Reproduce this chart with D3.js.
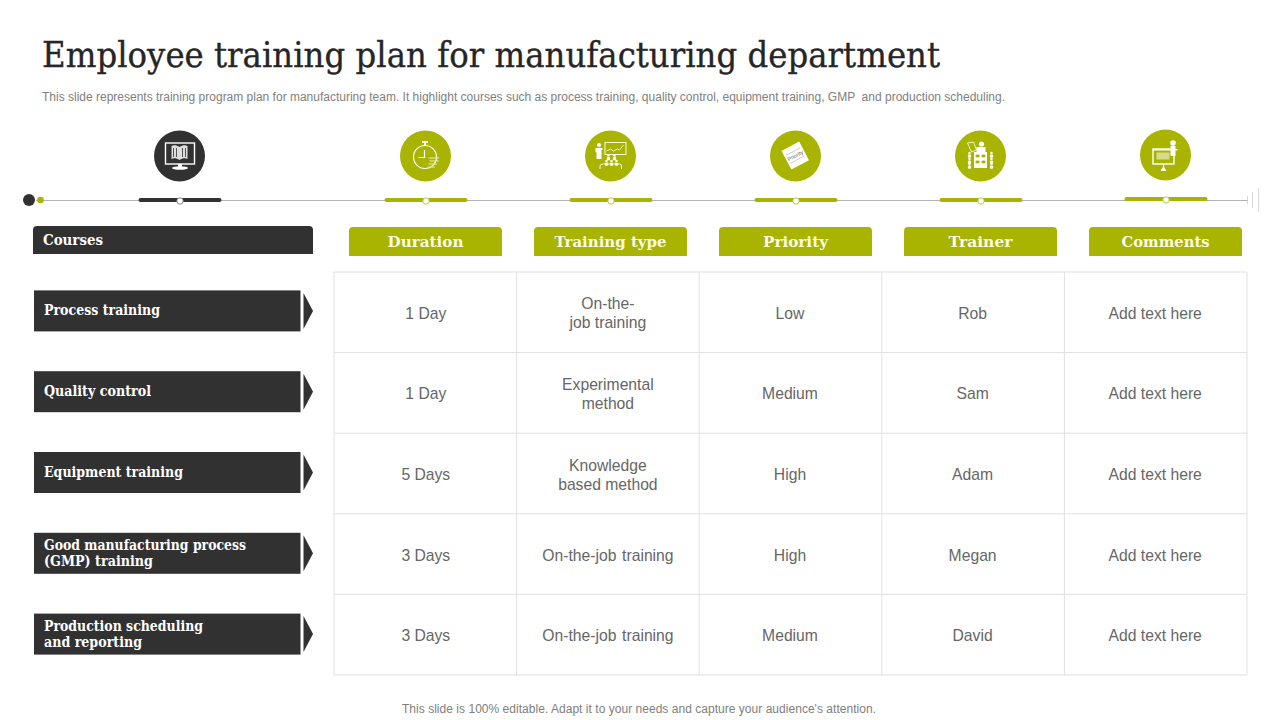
<!DOCTYPE html>
<html>
<head>
<meta charset="utf-8">
<title>Employee training plan</title>
<script src="https://cdn.jsdelivr.net/npm/d3@7/dist/d3.min.js"></script>
<style>
  html, body { margin: 0; padding: 0; background: #fff; }
  svg { display: block; }
  text { white-space: pre; }
  .serif { font-family: "DejaVu Serif", serif; }
  .sans { font-family: "Liberation Sans", Arial, sans-serif; }
</style>
</head>
<body>
<div id="chart"></div>
<script>
const courses = [
  ['Process training'],
  ['Quality control'],
  ['Equipment training'],
  ['Good manufacturing process', '(GMP) training'],
  ['Production scheduling', 'and reporting']
];
const columns = ['Duration', 'Training type', 'Priority', 'Trainer', 'Comments'];
const durations = ['1 Day', '1 Day', '5 Days', '3 Days', '3 Days'];
const trainingTypes = [
  ['On-the-', 'job training'],
  ['Experimental', 'method'],
  ['Knowledge', 'based method'],
  ['On-the-job  training'],
  ['On-the-job  training']
];
const priorities = ['Low', 'Medium', 'High', 'High', 'Medium'];
const trainers = ['Rob', 'Sam', 'Adam', 'Megan', 'David'];
const comments = ['Add text here', 'Add text here', 'Add text here', 'Add text here', 'Add text here'];

const titleText = 'Employee training plan for manufacturing department';
const subtitleText = 'This slide represents training program plan for manufacturing team. It highlight courses such as process training, quality control, equipment training, GMP  and production scheduling.';
const footerText = "This slide is 100% editable. Adapt it to your needs and capture your audience's attention.";

const dark = '#323132';
const green = '#a8b400';

const svg = d3.select('#chart').append('svg').attr('width', 1280).attr('height', 720);

// header text
svg.append('text').attr('class', 'serif').attr('x', 42).attr('y', 67)
  .attr('font-size', 36).attr('fill', '#262626')
  .attr('stroke', '#262626').attr('stroke-width', 0.35)
  .attr('textLength', 898).attr('lengthAdjust', 'spacingAndGlyphs')
  .text(titleText);
svg.append('text').attr('class', 'sans').attr('x', 42).attr('y', 101)
  .attr('font-size', 12).attr('fill', '#808080')
  .attr('textLength', 963)
  .text(subtitleText);
svg.append('text').attr('class', 'sans').attr('x', 402).attr('y', 713)
  .attr('font-size', 12).attr('fill', '#808080')
  .attr('textLength', 474)
  .text(footerText);

// scales
const headX = d3.scaleBand().domain(columns).range([333, 1258]).paddingInner(0.1732).paddingOuter(0.0866);
const tableX = d3.scaleBand().domain(columns).range([334, 1247]);
const tableY = d3.scaleBand().domain(d3.range(courses.length)).range([272, 675]);
const courseY = d3.scaleBand().domain(d3.range(courses.length)).range([270.5, 674.5]);

// timeline
const lineY = 200;
const timeline = svg.append('g');
timeline.append('line').attr('x1', 36).attr('x2', 1248).attr('y1', lineY + 0.5).attr('y2', lineY + 0.5)
  .attr('stroke', '#b3b3b3').attr('stroke-width', 1);
timeline.append('circle').attr('cx', 29).attr('cy', lineY).attr('r', 6).attr('fill', dark);
timeline.append('circle').attr('cx', 40.5).attr('cy', lineY).attr('r', 3.3).attr('fill', green);
[[1247.5, 4], [1252.5, 8], [1258.5, 12]].forEach(function (t) {
  timeline.append('line').attr('x1', t[0]).attr('x2', t[0])
    .attr('y1', lineY - t[1]).attr('y2', lineY + t[1])
    .attr('stroke', '#cfcfcf').attr('stroke-width', 0.8);
});

const markerX = [180].concat(columns.map(function (c) { return headX(c) + headX.bandwidth() / 2; }));
const iconFns = [iconBook, iconClock, iconTeach, iconPriority, iconTrainer, iconBoard];

markerX.forEach(function (x, i) {
  const color = i === 0 ? dark : green;
  const barY = i === 5 ? lineY - 1 : lineY;
  const cx = i === 0 ? x : x + 0.5;
  timeline.append('rect').attr('x', cx - 41.5).attr('y', barY - 2).attr('width', 83).attr('height', 4)
    .attr('rx', 2).attr('fill', color);
  timeline.append('circle').attr('cx', cx).attr('cy', barY + 1).attr('r', 3.2)
    .attr('fill', '#fff').attr('stroke', i === 0 ? '#777' : '#b9c23a').attr('stroke-width', 0.9);
  const g = svg.append('g').attr('transform', 'translate(' + (i === 0 ? 179.5 : x) + ',' + (i === 5 ? 155 : 156) + ')');
  g.append('circle').attr('r', 25.5).attr('fill', color);
  iconFns[i](g, color);
});

// column headers
const topRound = function (x, y, w, h, r) {
  const p = d3.path();
  p.moveTo(x, y + h);
  p.lineTo(x, y + r);
  p.quadraticCurveTo(x, y, x + r, y);
  p.lineTo(x + w - r, y);
  p.quadraticCurveTo(x + w, y, x + w, y + r);
  p.lineTo(x + w, y + h);
  p.closePath();
  return p.toString();
};

svg.append('path').attr('d', topRound(33, 226, 280, 28, 4)).attr('fill', dark);
svg.append('text').attr('class', 'serif').attr('x', 43).attr('y', 245)
  .attr('font-size', 14).attr('font-weight', 'bold').attr('fill', '#fff')
  .attr('textLength', 60).attr('lengthAdjust', 'spacingAndGlyphs').text('Courses');

const headWidths = [76, 112, 65, 64, 88];
const heads = svg.append('g').selectAll('g').data(columns).enter().append('g');
heads.append('path')
  .attr('d', function (d) { return topRound(headX(d), 227, headX.bandwidth(), 29, 4); })
  .attr('fill', green);
heads.append('text').attr('class', 'serif')
  .attr('x', function (d) { return headX(d) + headX.bandwidth() / 2; })
  .attr('y', 247).attr('text-anchor', 'middle')
  .attr('font-size', 15.5).attr('font-weight', 'bold').attr('fill', '#fbfbe8')
  .attr('textLength', function (d, i) { return headWidths[i]; })
  .attr('lengthAdjust', 'spacingAndGlyphs')
  .text(function (d) { return d; });

// course rows
const courseWidths = [
  [116],
  [107],
  [139],
  [202, 109],
  [159, 98]
];
const rows = svg.append('g').selectAll('g').data(courses).enter().append('g')
  .attr('transform', function (d, i) {
    return 'translate(0,' + (courseY(i) + courseY.bandwidth() / 2) + ')';
  });
rows.append('rect').attr('x', 34).attr('y', -20.5).attr('width', 266.5).attr('height', 41).attr('fill', dark);
rows.append('path').attr('d', 'M303.5,-18 L313,0 L303.5,18 Z').attr('fill', dark);
rows.each(function (d, i) {
  const row = d3.select(this);
  d.forEach(function (line, j) {
    row.append('text').attr('class', 'serif').attr('x', 44)
      .attr('y', (j - (d.length - 1) / 2) * 16 + 4.5)
      .attr('font-size', 14.5).attr('font-weight', 'bold').attr('fill', '#fff')
      .attr('textLength', courseWidths[i][j]).attr('lengthAdjust', 'spacingAndGlyphs')
      .text(line);
  });
});

// table grid
const grid = svg.append('g').attr('stroke', '#e0e0e0').attr('stroke-width', 1);
tableX.domain().forEach(function (c) {
  grid.append('line').attr('x1', tableX(c)).attr('x2', tableX(c)).attr('y1', 272).attr('y2', 675);
});
grid.append('line').attr('x1', 1247).attr('x2', 1247).attr('y1', 272).attr('y2', 675);
d3.range(courses.length + 1).forEach(function (i) {
  const y = i === courses.length ? 675 : tableY(i);
  grid.append('line').attr('x1', 334).attr('x2', 1247).attr('y1', y).attr('y2', y);
});

// table cells
const cellData = [durations, trainingTypes, priorities, trainers, comments];
columns.forEach(function (c, ci) {
  cellData[ci].forEach(function (v, ri) {
    const lines = Array.isArray(v) ? v : [v];
    lines.forEach(function (line, j) {
      svg.append('text').attr('class', 'sans')
        .attr('x', tableX(c) + tableX.bandwidth() / 2 - (ci === 0 ? -0.5 : 0) - (ci > 0 ? 0.5 : 0) + (ci === 1 ? 0.5 : 0))
        .attr('y', tableY(ri) + tableY.bandwidth() / 2 + 6.5 + (j - (lines.length - 1) / 2) * 19)
        .attr('text-anchor', 'middle').attr('font-size', 15.7).attr('fill', '#666')
        .attr('word-spacing', line.indexOf('  ') > 0 ? -1.5 : 0)
        .text(line);
    });
  });
});

// icons, drawn in white on the circles
function iconBook(g, bg) {
  g.append('rect').attr('x', -14).attr('y', -13).attr('width', 29).attr('height', 21)
    .attr('fill', 'none').attr('stroke', '#fff').attr('stroke-width', 1.4);
  g.append('path').attr('d', 'M0,-9 C-3,-11 -6,-11 -8,-10 L-8,3 C-6,2 -3,2 0,4 C3,2 6,2 8,3 L8,-10 C6,-11 3,-11 0,-9 Z')
    .attr('fill', '#ddd');
  d3.range(-6, 7, 3).forEach(function (x) {
    if (x === 0) return;
    g.append('line').attr('x1', x).attr('x2', x).attr('y1', -8).attr('y2', 1).attr('stroke', bg).attr('stroke-width', 0.8);
  });
  g.append('rect').attr('x', -1.5).attr('y', 8).attr('width', 4).attr('height', 3).attr('fill', '#fff');
  g.append('ellipse').attr('cx', 0.5).attr('cy', 12).attr('rx', 8).attr('ry', 1.8).attr('fill', '#fff');
}

function iconClock(g, bg) {
  g.append('circle').attr('cx', -0.5).attr('cy', 1).attr('r', 11.5).attr('fill', 'none').attr('stroke', '#fff').attr('stroke-width', 1.2);
  g.append('rect').attr('x', -3.5).attr('y', -15).attr('width', 6).attr('height', 2).attr('fill', '#fff');
  g.append('rect').attr('x', -1.5).attr('y', -13).attr('width', 2).attr('height', 3).attr('fill', '#fff');
  g.append('path').attr('d', 'M-1,-6 L-1,1.5 L-7,1.5').attr('fill', 'none').attr('stroke', '#fff').attr('stroke-width', 1.2);
  [[3, 2], [4, 5], [3, 8], [2, 11]].forEach(function (t) {
    g.append('line').attr('x1', t[0]).attr('x2', t[0] + 11 - t[1] / 3).attr('y1', t[1]).attr('y2', t[1])
      .attr('stroke', '#dfe39a').attr('stroke-width', 1.3);
  });
}

function person(g, x, y, s) {
  g.append('circle').attr('cx', x).attr('cy', y).attr('r', 1.6 * s).attr('fill', '#fff');
  g.append('rect').attr('x', x - 2 * s).attr('y', y + 2 * s).attr('width', 4 * s).attr('height', 4 * s).attr('rx', 1).attr('fill', '#fff');
}

function iconTeach(g, bg) {
  g.append('rect').attr('x', -5.5).attr('y', -13.5).attr('width', 21).attr('height', 12)
    .attr('fill', 'none').attr('stroke', '#fff').attr('stroke-width', 0.9);
  g.append('path').attr('d', 'M-4,-5 L0,-7 L3,-5 L7,-7 L9,-6 L13,-11').attr('fill', 'none').attr('stroke', '#fff').attr('stroke-width', 0.8);
  g.append('circle').attr('cx', -11.5).attr('cy', -11).attr('r', 2).attr('fill', '#fff');
  g.append('path').attr('d', 'M-15,-8 L-8,-8 L-8,-6 L-9,-6 L-9,3 L-14,3 L-14,-4 L-15,-4 Z').attr('fill', '#fff');
  person(g, -2, -0.5, 0.8); person(g, 4, -0.5, 0.8);
  person(g, -4, 5, 0.8); person(g, 1, 5, 0.8); person(g, 6, 5, 0.8);
  g.append('path').attr('d', 'M-10.5,13 L-10.5,10 Q-10.5,8 -7,8 L9,8 Q11,8 11,10 L11,13').attr('fill', 'none').attr('stroke', '#fff').attr('stroke-width', 0.9);
}

function iconPriority(g, bg) {
  const t = g.append('g').attr('transform', 'rotate(-28)');
  t.append('rect').attr('x', -10).attr('y', -11).attr('width', 20).attr('height', 21).attr('fill', '#fff');
  t.append('line').attr('x1', -8).attr('x2', 8).attr('y1', -5).attr('y2', -5).attr('stroke', '#b5b88a').attr('stroke-width', 0.6);
  t.append('line').attr('x1', -8).attr('x2', 8).attr('y1', 4).attr('y2', 4).attr('stroke', '#b5b88a').attr('stroke-width', 0.6);
  t.append('text').attr('class', 'sans').attr('text-anchor', 'middle').attr('y', 1.5)
    .attr('font-size', 5.5).attr('fill', '#666').text('Priority');
}

function iconTrainer(g, bg) {
  g.append('path').attr('d', 'M-13,-13 L-7,-14 L-4,-6 L-9,-4 Z').attr('fill', 'none').attr('stroke', '#fff').attr('stroke-width', 0.8);
  g.append('circle').attr('cx', 1).attr('cy', -12).attr('r', 2.6).attr('fill', '#fff');
  g.append('path').attr('d', 'M-4,-9 L5,-9 L5,-4 L-4,-4 Z').attr('fill', '#fff');
  g.append('rect').attr('x', -6.5).attr('y', -4).attr('width', 13).attr('height', 16).attr('fill', '#fff');
  [[-3, 0], [3, 0], [-3, 6], [3, 6]].forEach(function (t) {
    g.append('ellipse').attr('cx', t[0]).attr('cy', t[1]).attr('rx', 2.2).attr('ry', 1.4).attr('fill', bg);
  });
  [-11, 11].forEach(function (x) {
    person(g, x, -3, 0.8); person(g, x, 3, 0.8); person(g, x, 8, 0.8);
  });
}

function iconBoard(g, bg) {
  g.append('circle').attr('cx', 7.5).attr('cy', -12).attr('r', 2.8).attr('fill', '#fff');
  g.append('rect').attr('x', 5).attr('y', -9).attr('width', 5).attr('height', 10).attr('fill', '#fff');
  g.append('rect').attr('x', -13).attr('y', -6).attr('width', 25).attr('height', 1.5).attr('fill', '#fff');
  g.append('rect').attr('x', -12.5).attr('y', -6).attr('width', 21).attr('height', 15)
    .attr('fill', 'none').attr('stroke', '#fff').attr('stroke-width', 1.4);
  g.append('rect').attr('x', -9).attr('y', -2.5).attr('width', 13).attr('height', 7).attr('fill', '#d6da8c');
  g.append('line').attr('x1', -2).attr('x2', -2).attr('y1', 9).attr('y2', 12).attr('stroke', '#fff').attr('stroke-width', 1.2);
  g.append('path').attr('d', 'M-5,16 L-2,11 L1,16 Z').attr('fill', '#fff');
}
</script>
</body>
</html>
